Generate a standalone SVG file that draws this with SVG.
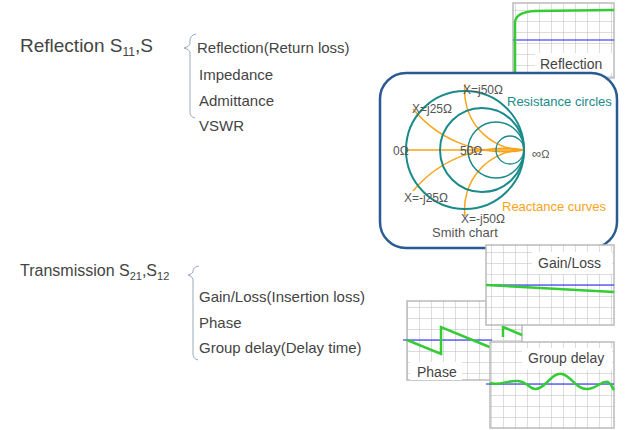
<svg xmlns="http://www.w3.org/2000/svg" width="641" height="430" viewBox="0 0 641 430">
<style>
.t{font-family:"Liberation Sans",Arial,sans-serif;fill:#444}
.s{font-family:"Liberation Sans",Arial,sans-serif;fill:#555}
.br{fill:none;stroke:#9ab;stroke-width:1}
.bg{fill:#fff;stroke:#bbb;stroke-width:1.5}
.g{stroke:#bbb;stroke-width:1}
.lbl{fill:#fff}
.bl{stroke:#1a1aff;stroke-width:1.2}
.gr{fill:none;stroke:#3c3;stroke-width:2.5}
.tc{fill:none;stroke:#1a8a8a;stroke-width:2}
.or{fill:none;stroke:#f9a31a;stroke-width:1.5}
</style>
<defs>
<pattern id="grid" width="12" height="11" patternUnits="userSpaceOnUse">
<path d="M12 0V11M0 11H12" class="g" fill="none"/>
</pattern>
</defs>
<g id="left">
<text class="t" x="20" y="52" font-size="19">Reflection S<tspan font-size="12" dy="4">11</tspan><tspan dy="-4">,S</tspan></text>
<path class="br" d="M196 34 Q190 35 190 41 L190 44 Q189 47 184 48 Q189 49 190 52 L190 112 Q190 117 195 118"/>
<text class="t" x="197" y="53" font-size="15">Reflection(Return loss)</text>
<text class="t" x="199" y="80" font-size="15">Impedance</text>
<text class="t" x="199" y="106" font-size="15">Admittance</text>
<text class="t" x="199" y="131" font-size="15">VSWR</text>
<text class="t" x="20" y="276" font-size="16">Transmission S<tspan font-size="11" dy="4">21</tspan><tspan dy="-4">,S</tspan><tspan font-size="11" dy="4">12</tspan></text>
<path class="br" d="M199 266 Q193 267 193 271 L193 272 Q192 274 188 275 Q192 276 193 279 L193 354 Q193 359 198 360"/>
<text class="t" x="199" y="302" font-size="15">Gain/Loss(Insertion loss)</text>
<text class="t" x="199" y="328" font-size="15">Phase</text>
<text class="t" x="199" y="353" font-size="15">Group delay(Delay time)</text>
</g>
<g id="reflection-chart">
<rect class="bg" x="513" y="3" width="101" height="75"/>
<rect x="513" y="3" width="101" height="75" fill="url(#grid)"/>
<rect class="lbl" x="535" y="53" width="78" height="20"/>
<text class="t" x="540" y="69" font-size="14">Reflection</text>
<line class="bl" x1="513" y1="40" x2="614" y2="40"/>
<path class="gr" stroke-width="3.5" d="M515 80 L515 22 Q516 12 535 11 L614 10"/>
</g>
<g id="smith">
<rect x="380" y="73" width="237" height="175" rx="26" fill="#fff" stroke="#2a5a93" stroke-width="2.5"/>
<g class="or">
<line x1="406" y1="150" x2="524" y2="150"/>
<path d="M465 84 A59 59 0 0 0 524 150"/>
<path d="M465 216 A59 59 0 0 1 524 150"/>
<path d="M413 109 A118 118 0 0 0 524 150"/>
<path d="M413 191 A118 118 0 0 1 524 150"/>
</g>
<g class="tc">
<circle cx="465" cy="150" r="59"/>
<circle cx="482" cy="150" r="42"/>
<circle cx="496" cy="150" r="28" stroke-width="1.5"/>
<circle cx="510" cy="150" r="14" stroke-width="1.3"/>
</g>
<text class="s" x="463" y="94" font-size="12">X=j50Ω</text>
<text class="s" x="412" y="113" font-size="12">X=j25Ω</text>
<text class="s" x="393" y="155" font-size="12">0Ω</text>
<text class="s" x="460" y="155" font-size="12">50Ω</text>
<text class="s" x="532" y="158" font-size="13">∞<tspan font-size="11">Ω</tspan></text>
<text class="s" x="404" y="202" font-size="12">X=-j25Ω</text>
<text class="s" x="461" y="223" font-size="12">X=-j50Ω</text>
<text class="s" x="432" y="237" font-size="13">Smith chart</text>
<text x="507" y="106" font-size="13" font-family="Liberation Sans,Arial,sans-serif" fill="#1a8a8a">Resistance circles</text>
<text x="502" y="211" font-size="13" font-family="Liberation Sans,Arial,sans-serif" fill="#f9a31a">Reactance curves</text>
</g>
<g id="phase-chart">
<rect class="bg" x="407" y="301" width="115" height="79"/>
<rect x="407" y="301" width="115" height="79" fill="url(#grid)"/>
<rect class="lbl" x="410" y="362" width="52" height="18"/>
<text class="t" x="417" y="377" font-size="14">Phase</text>
<line class="bl" x1="403" y1="340" x2="492" y2="340"/>
<path class="gr" stroke-width="2" d="M407 340 L441 354 L441 327 L492 348 M503 337 L503 327 L522 335"/>
</g>
<g id="gain-chart">
<rect class="bg" x="486" y="245" width="128" height="80"/>
<rect x="486" y="245" width="128" height="80" fill="url(#grid)"/>
<rect class="lbl" x="532" y="252" width="80" height="22"/>
<text class="t" x="538" y="268" font-size="14">Gain/Loss</text>
<line class="bl" x1="486" y1="285" x2="614" y2="285"/>
<path class="gr" d="M486 285 L614 292"/>
</g>
<g id="delay-chart">
<rect class="bg" x="490" y="342" width="124" height="86"/>
<rect x="490" y="342" width="124" height="86" fill="url(#grid)"/>
<rect class="lbl" x="522" y="348" width="90" height="22"/>
<text class="t" x="528" y="363" font-size="14">Group delay</text>
<line class="bl" x1="486" y1="384" x2="614" y2="384"/>
<path class="gr" stroke-width="2" d="M490 383 C500 386 508 380 518 381 C528 382 530 390 536 389 C546 388 552 372 562 374 C572 376 576 390 588 389 C598 388 602 380 608 382 C612 384 612 388 614 390"/>
</g>
</svg>
